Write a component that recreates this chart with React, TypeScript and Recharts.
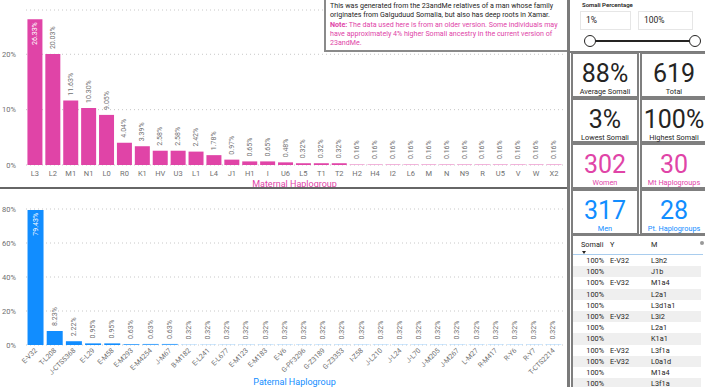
import React from "react";
import { BarChart, Bar, XAxis, YAxis, CartesianGrid, LabelList, Cell } from "recharts";

const FONT = "'Segoe UI', Roboto, 'Open Sans', sans-serif";
const PINK = "#E044A7";
const BLUE = "#118DFF";
const INK = "#252423";
const TICK = "#707070";

// mtDNA (maternal) haplogroup shares, %
const maternalGroups = [
  "L3", "L2", "M1", "N1", "L0", "R0", "K1", "HV", "U3", "L1", "L4", "J1", "H1", "I", "U6",
  "L5", "T1", "T2", "H2", "H4", "I2", "L6", "M", "N", "N9", "R", "U5", "V", "W", "X2",
];
const maternalShare = [
  26.33, 20.03, 11.63, 10.3, 9.05, 4.04, 3.39, 2.58, 2.58, 2.42, 1.78, 0.97, 0.65, 0.65, 0.48,
  0.32, 0.32, 0.32, 0.16, 0.16, 0.16, 0.16, 0.16, 0.16, 0.16, 0.16, 0.16, 0.16, 0.16, 0.16,
];

// Y-DNA (paternal) haplogroup shares, %
const paternalGroups = [
  "E-V32", "T-L208", "J-CTS5368", "E-L29", "E-M58", "E-M293", "E-M4254", "J-M67", "B-M182",
  "E-L241", "E-L677", "E-M123", "E-M183", "E-V6", "G-PF3296", "G-Z3189", "G-Z3353", "I-Z58",
  "J-L210", "J-L24", "J-L70", "J-M205", "J-M267", "L-M27", "R-M417", "R-Y6", "R-Y7", "T-CTS2214",
];
const paternalShare = [
  79.43, 8.23, 2.22, 0.95, 0.95, 0.63, 0.63, 0.63, 0.32,
  0.32, 0.32, 0.32, 0.32, 0.32, 0.32, 0.32, 0.32, 0.32,
  0.32, 0.32, 0.32, 0.32, 0.32, 0.32, 0.32, 0.32, 0.32, 0.32,
];

const maternalTicks = [0, 10, 20];
const paternalTicks = [0, 20, 40, 60, 80];

const cards = [
  { value: "88%", label: "Average Somali", color: INK },
  { value: "619", label: "Total", color: INK },
  { value: "3%", label: "Lowest Somali", color: INK },
  { value: "100%", label: "Highest Somali", color: INK },
  { value: "302", label: "Women", color: PINK },
  { value: "30", label: "Mt Haplogroups", color: PINK },
  { value: "317", label: "Men", color: BLUE },
  { value: "28", label: "Pt. Haplogroups", color: BLUE },
];

const tableSomali = ["100%", "100%", "100%", "100%", "100%", "100%", "100%", "100%", "100%", "100%", "100%", "100%"];
const tableY = ["E-V32", "", "E-V32", "", "", "E-V32", "", "", "E-V32", "E-V32", "", ""];
const tableM = ["L3h2", "J1b", "M1a4", "L2a1", "L3d1a1", "L3i2", "L2a1", "K1a1", "L3f1a", "L0a1d", "M1a4", "L3f1a"];

const maternalData = maternalGroups.map((g, i) => ({ g, v: maternalShare[i] }));
const paternalData = paternalGroups.map((g, i) => ({ g, v: paternalShare[i] }));

// lighten a hex colour toward white, t = 1 keeps it as is
function tint(hex: string, t: number) {
  const n = parseInt(hex.slice(1), 16);
  const c = [(n >> 16) & 255, (n >> 8) & 255, n & 255].map((k) => Math.round(255 - (255 - k) * t));
  return `rgb(${c[0]},${c[1]},${c[2]})`;
}
const maternalFill = (v: number) => (v < 0.2 ? tint(PINK, 0.45) : PINK);
const paternalFill = (v: number) => (v < 0.4 ? tint(BLUE, 0.38) : v < 0.7 ? tint(BLUE, 0.75) : BLUE);

function barLabel(maxV: number) {
  return (p: any) => {
    const { x, y, width } = p;
    const v = Number(p.value);
    const cx = Number(x) + Number(width) / 2;
    const top = v === maxV;
    const ty = top ? Number(y) + 3 : Number(y) - 5;
    return (
      <text x={cx} y={ty} transform={`rotate(-90 ${cx} ${ty})`} textAnchor={top ? "end" : "start"}
        dominantBaseline="central" fontSize={7} fill={top ? "#fff" : TICK}>
        {v.toFixed(2)}%
      </text>
    );
  };
}

function YTick({ y, payload }: any) {
  return (
    <text x={16} y={y} textAnchor="end" dominantBaseline="central" fontSize={7.5} fill={TICK}>
      {payload.value}%
    </text>
  );
}

function FlatTick({ x, y, payload }: any) {
  return (
    <text x={x} y={y + 3} textAnchor="middle" fontSize={7.5} fill={TICK}>{payload.value}</text>
  );
}

function SlantTick({ x, y, payload }: any) {
  const tx = x + 2, ty = y - 2;
  return (
    <text x={tx} y={ty} transform={`rotate(-45 ${tx} ${ty})`} textAnchor="end" fontSize={7} fill={TICK}>
      {payload.value}
    </text>
  );
}

const abs = (l: number, t: number, w: number, h: number, extra: any = {}) =>
  ({ position: "absolute", left: l, top: t, width: w, height: h, boxSizing: "border-box", ...extra } as React.CSSProperties);

export default function App() {
  return (
    <div style={abs(0, 0, 705, 387, { background: "#fff", overflow: "hidden", fontFamily: FONT, color: INK })}>
      {/* maternal */}
      <div style={abs(0, 0, 567, 188)}>
        <BarChart width={567} height={188} data={maternalData} margin={{ top: 10, right: 4, bottom: 0, left: 0 }}
          barCategoryGap="8%">
          <CartesianGrid vertical={false} stroke="#c8c8c8" strokeDasharray="1 3" />
          <XAxis dataKey="g" interval={0} height={23} axisLine={false} tickLine={false} tick={<FlatTick />}
            label={{ value: "Maternal Haplogroup", position: "insideBottom", offset: 1, fill: PINK, fontSize: 9 }} />
          <YAxis width={26} domain={[0, 28]} ticks={maternalTicks} axisLine={false} tickLine={false} tick={<YTick />} />
          <Bar dataKey="v" isAnimationActive={false}>
            {maternalData.map((d) => <Cell key={d.g} fill={maternalFill(d.v)} />)}
            <LabelList dataKey="v" content={barLabel(maternalShare[0])} />
          </Bar>
        </BarChart>
      </div>

      {/* note box */}
      <div style={abs(324, -2, 246, 54, { background: "#fff", borderLeft: "2px solid #8a8a8a", borderBottom: "2px solid #8a8a8a",
        padding: "3px 0 0 4px", fontSize: 7.1, lineHeight: "9.3px", whiteSpace: "nowrap" })}>
        <div>This was generated from the 23andMe relatives of a man whose family</div>
        <div>originates from Galguduud Somalia, but also has deep roots in Xamar.</div>
        <div style={{ color: PINK }}><b>Note:</b> The data used here is from an older version. Some individuals may</div>
        <div style={{ color: PINK }}>have approximately 4% higher Somali ancestry in the current version of</div>
        <div style={{ color: PINK }}>23andMe.</div>
      </div>

      <div style={abs(0, 187, 568, 2, { background: "#666" })} />

      {/* paternal */}
      <div style={abs(0, 190, 567, 197)}>
        <BarChart width={567} height={197} data={paternalData} margin={{ top: 19, right: 4, bottom: 0, left: 0 }}
          barCategoryGap="8%">
          <CartesianGrid vertical={false} stroke="#c8c8c8" strokeDasharray="1 3" />
          <XAxis dataKey="g" interval={0} height={42} axisLine={false} tickLine={false} tick={<SlantTick />}
            label={{ value: "Paternal Haplogroup", position: "insideBottom", offset: 2, fill: BLUE, fontSize: 9 }} />
          <YAxis width={26} domain={[0, 80]} ticks={paternalTicks} axisLine={false} tickLine={false} tick={<YTick />} />
          <Bar dataKey="v" isAnimationActive={false}>
            {paternalData.map((d) => <Cell key={d.g} fill={paternalFill(d.v)} />)}
            <LabelList dataKey="v" content={barLabel(paternalShare[0])} />
          </Bar>
        </BarChart>
      </div>

      {/* right panel */}
      <div style={abs(567, 0, 3, 387, { background: "#7a7a7a" })} />

      <div style={abs(582, 1, 100, 8, { fontSize: 6, fontWeight: 600, lineHeight: "8px" })}>Somali Percentage</div>
      <div style={abs(580, 11, 51, 19, { border: "1px solid #e6e6e6", fontSize: 8.5, lineHeight: "17px", paddingLeft: 5 })}>1%</div>
      <div style={abs(638, 11, 55, 19, { border: "1px solid #e6e6e6", fontSize: 8.5, lineHeight: "17px", paddingLeft: 5 })}>100%</div>
      <div style={abs(590, 40, 105, 2, { background: INK })} />
      <div style={abs(584, 35, 12, 12, { borderRadius: 6, border: "1.3px solid " + INK, background: "#fff" })} />
      <div style={abs(689, 35, 12, 12, { borderRadius: 6, border: "1.3px solid " + INK, background: "#fff" })} />
      <div style={abs(570, 51, 135, 2, { background: "#7a7a7a" })} />

      {cards.map((c, i) => {
        const col = i % 2, row = Math.floor(i / 2);
        return (
          <div key={c.label} style={abs(col ? 640 : 571, 52 + row * 45.7, 68, 45.5,
            { border: "2px solid #7f7f7f", textAlign: "center" })}>
            <div style={{ position: "absolute", left: 0, right: 0, top: 7, fontSize: 25, lineHeight: "26px", color: c.color }}>{c.value}</div>
            <div style={{ position: "absolute", left: 0, right: 0, top: 33, fontSize: 7.3, lineHeight: "9px", color: c.color }}>{c.label}</div>
          </div>
        );
      })}

      {/* table */}
      <div style={abs(571, 234, 136, 155, { border: "2px solid #7f7f7f", fontSize: 7.3 })}>
        <div style={abs(8, 4, 30, 10, { lineHeight: "10px" })}>Somali</div>
        <div style={abs(37, 4, 10, 10, { lineHeight: "10px" })}>Y</div>
        <div style={abs(78, 4, 10, 10, { lineHeight: "10px" })}>M</div>
        <div style={abs(9, 15, 0, 0, { borderLeft: "2.5px solid transparent", borderRight: "2.5px solid transparent", borderTop: "3px solid " + INK })} />
        <div style={abs(127, 5, 4, 4, { borderRadius: 2, background: "#999" })} />
        <div style={abs(0, 18, 130, 1, { background: "#a9cdee" })} />
        {tableM.map((m, i) => (
          <div key={i} style={abs(0, 19 + i * 11.2, 128, 11.2, { background: i % 2 ? "#efefef" : "#fff", lineHeight: "11.2px" })}>
            <span style={{ position: "absolute", right: 97, top: 0 }}>{tableSomali[i]}</span>
            <span style={{ position: "absolute", left: 37, top: 0 }}>{tableY[i]}</span>
            <span style={{ position: "absolute", left: 78, top: 0 }}>{m}</span>
          </div>
        ))}
      </div>
    </div>
  );
}
